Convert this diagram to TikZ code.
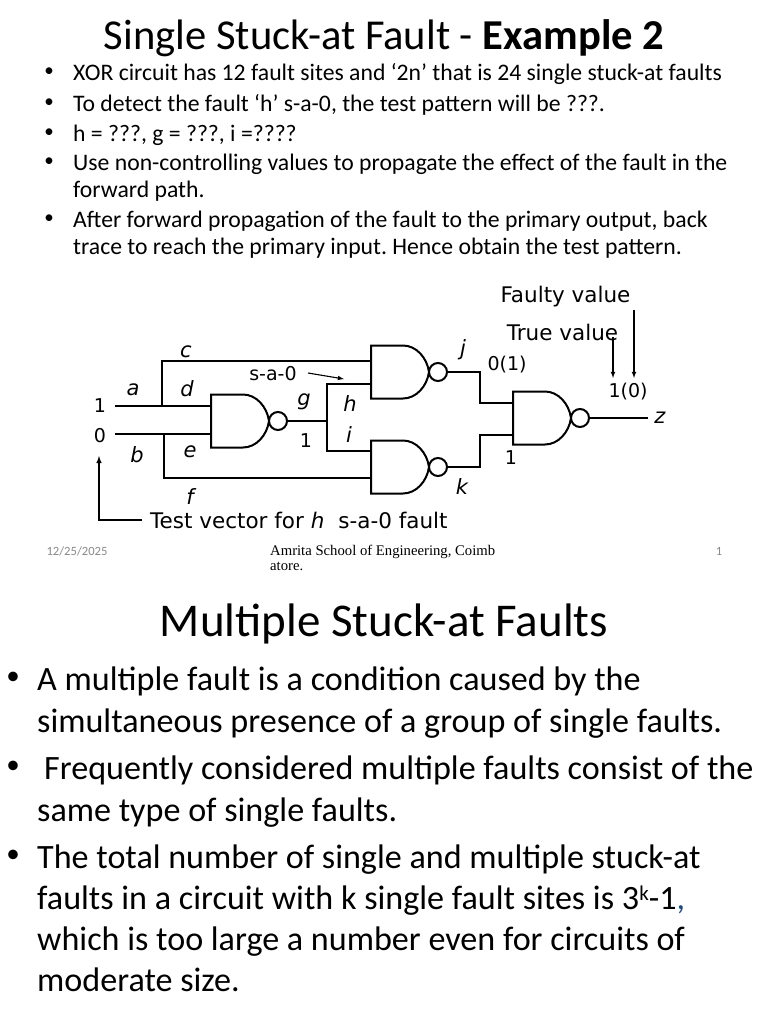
\documentclass[tikz,border=0pt]{standalone}
\usepackage{fontspec}
\setmainfont{Carlito}
\newfontfamily\gatefont{DejaVu Sans}
\newfontfamily\footfont{Liberation Serif}
\definecolor{footgray}{RGB}{137,137,137}
\definecolor{commablue}{RGB}{31,73,125}
\frenchspacing
\tikzset{
	pics/nandgate/.style={code={
		\draw[wire] (0,0)--(32,0) .. controls (45,0) and (56,12) .. (58,26.5) .. controls (56,41) and (45,53) .. (32,53)--(0,53)--cycle ;
		\draw[wire] (67,26.5) circle (9) ;
		\coordinate (-out) at (76,26.5) ;
	}},
	wire/.style={line width=2pt,line join=miter,black},
	thinarrow/.style={line width=1.1pt,-latex},
	circ/.style={font=\gatefont\fontsize{19}{19}\selectfont,inner sep=0pt,text=black},
	circbig/.style={font=\gatefont\fontsize{21.5}{21.5}\selectfont,inner sep=0pt,text=black},
	sig/.style={font=\gatefont\itshape\fontsize{21}{21}\selectfont,inner sep=0pt,text=black},
	linetop/.style={font=\fontsize{23.7}{23.7}\selectfont,anchor=base west,inner sep=0pt,text=black},
	linelow/.style={font=\fontsize{34.1}{34.1}\selectfont,anchor=base west,inner sep=0pt,text=black},
	bullettop/.style={font=\fontsize{19}{19}\selectfont,anchor=base,inner sep=0pt},
	bulletlow/.style={font=\fontsize{27}{27}\selectfont,anchor=base,inner sep=0pt},
	foot/.style={font=\fontsize{12.6}{12.6}\selectfont,text=footgray,inner sep=0pt,anchor=base},
	rimpl/.style={font=\footfont\fontsize{14.7}{14.7}\selectfont,inner sep=0pt,anchor=base west},
}
\begin{document}
\begin{tikzpicture}[x=1pt,y=-1pt]
	\useasboundingbox (0,0) rectangle (768,1024) ;
	%titres
	\node[inner sep=0pt,anchor=base,font=\fontsize{42.6}{42.6}\selectfont] (titleone) at (384,50) {Single Stuck-at Fault - \textbf{Example 2}} ;
	\node[inner sep=0pt,anchor=base,font=\fontsize{47}{47}\selectfont] (titletwo) at (384,636) {Multiple Stuck-at Faults} ;
	%texte haut
	\foreach \Name/\Y/\Txt in {lta/81/{XOR circuit has 12 fault sites and ‘2n’ that is 24 single stuck-at faults},ltb/112/{To detect the fault ‘h’ s-a-0, the test pattern will be ???.},ltc/142/{h = ???, g = ???, i =????},ltd/171/{Use non-controlling values to propagate the effect of the fault in the},lte/198/{forward path.},ltf/227/{After forward propagation of the fault to the primary output, back},ltg/254/{trace to reach the primary input. Hence obtain the test pattern.}}
		\node[linetop] (\Name) at (73,\Y) {\Txt} ;
	\foreach \Name/\Y in {bta/77,btb/108,btc/138,btd/167,bte/223}
		\node[bullettop] (\Name) at (49,\Y) {•} ;
	%texte bas
	\foreach \Name/\X/\Y/\Txt in {lla/37/690/{A multiple fault is a condition caused by the},llb/37/732/{simultaneous presence of a group of single faults.},llc/44/779/{Frequently considered multiple faults consist of the},lld/37/821/{same type of single faults.},lle/37/868/{The total number of single and multiple stuck-at},llf/37/909/{faults in a circuit with k single fault sites is 3\raisebox{9pt}{\fontsize{21}{21}\selectfont k}-1\textcolor{commablue}{,}},llg/37/950/{which is too large a number even for circuits of},llh/37/991/{moderate size.}}
		\node[linelow] (\Name) at (\X,\Y) {\Txt} ;
	\foreach \Name/\Y in {bla/684,blb/773,blc/862}
		\node[bulletlow] (\Name) at (13,\Y) {•} ;
	%portes
	\pic (gateg) at (211,394.5) {nandgate} ;
	\pic (gatej) at (371,345.5) {nandgate} ;
	\pic (gatek) at (371,440.5) {nandgate} ;
	\pic (gatez) at (513,391.5) {nandgate} ;
	%points
	\coordinate (a) at (115,406) ;
	\coordinate (b) at (115,434) ;
	\coordinate (ga) at (211,406) ;
	\coordinate (gb) at (211,434) ;
	\coordinate (ca) at (162,406) ;
	\coordinate (cb) at (162,361) ;
	\coordinate (ja) at (371,361) ;
	\coordinate (fa) at (164,434) ;
	\coordinate (fb) at (164,478) ;
	\coordinate (kb) at (371,478) ;
	\coordinate (sa) at (327,384) ;
	\coordinate (jb) at (371,384) ;
	\coordinate (sb) at (327,451) ;
	\coordinate (ka) at (371,451) ;
	\coordinate (sm) at (327,421) ;
	\coordinate (ma) at (480,372) ;
	\coordinate (mb) at (480,403) ;
	\coordinate (za) at (513,403) ;
	\coordinate (na) at (480,467) ;
	\coordinate (nb) at (480,435) ;
	\coordinate (zb) at (513,435) ;
	\coordinate (zend) at (648,418) ;
	%fils
	\draw[wire] (a)--(ga) ;
	\draw[wire] (b)--(gb) ;
	\draw[wire] (ca)--(cb)--(ja) ;
	\draw[wire] (fa)--(fb)--(kb) ;
	\draw[wire] (ka)--(sb)--(sa)--(jb) ;
	\draw[wire] (gateg-out)--(sm) ;
	\draw[wire] (gatej-out)--(ma)--(mb)--(za) ;
	\draw[wire] (gatek-out)--(na)--(nb)--(zb) ;
	\draw[wire] (gatez-out)--(zend) ;
	%fleches
	\coordinate (saofrom) at (308,373) ;
	\coordinate (saoto) at (344,379) ;
	\coordinate (testa) at (142,520) ;
	\coordinate (testb) at (99,520) ;
	\coordinate (testc) at (99,456) ;
	\coordinate (truea) at (613,337) ;
	\coordinate (trueb) at (613,378) ;
	\coordinate (faulta) at (634,310) ;
	\coordinate (faultb) at (634,378) ;
	\draw[thinarrow] (saofrom)--(saoto) ;
	\draw[thinarrow,line width=1.4pt] (testa)--(testb)--(testc) ;
	\draw[thinarrow] (truea)--(trueb) ;
	\draw[thinarrow] (faulta)--(faultb) ;
	%labels
	\foreach \Point/\Name/\Txt in {(186,352)/lc/c,(187,389)/ld/d,(133,390)/la/a,(137,455)/lb/b,(190,452)/le/e,(190,497)/lf/f,(304,402)/lg/g,(350,404)/lh/h,(349,435)/li/i,(463,350)/lj/j,(462,487)/lk/k,(660,418)/lz/z}
		\node[sig] (\Name) at \Point {\Txt} ;
	\foreach \Point/\Name/\Txt in {(100,406)/va/1,(100,436)/vb/0,(306,441)/vg/1,(273,374)/vsa/{s-a-0},(507,365)/vj/{0(1)},(511,458)/vk/1,(628,392)/vz/{1(0)}}
		\node[circ] (\Name) at \Point {\Txt} ;
	\foreach \Point/\Name/\Txt in {(565.5,297)/lfault/{Faulty value},(562.5,332)/ltrue/{True value}}
		\node[circbig] (\Name) at \Point {\Txt} ;
	\node[circbig,anchor=base west] (ltest) at (150,528) {Test vector for {\itshape h}\,\, s-a-0 fault} ;
	%pied
	\node[foot] (fdate) at (77,555) {12/25/2025} ;
	\node[foot] (fnum) at (719,555) {1} ;
	\node[rimpl] (fsa) at (270,555) {Amrita School of Engineering, Coimb} ;
	\node[rimpl] (fsb) at (270,570) {atore.} ;
\end{tikzpicture}
\end{document}
